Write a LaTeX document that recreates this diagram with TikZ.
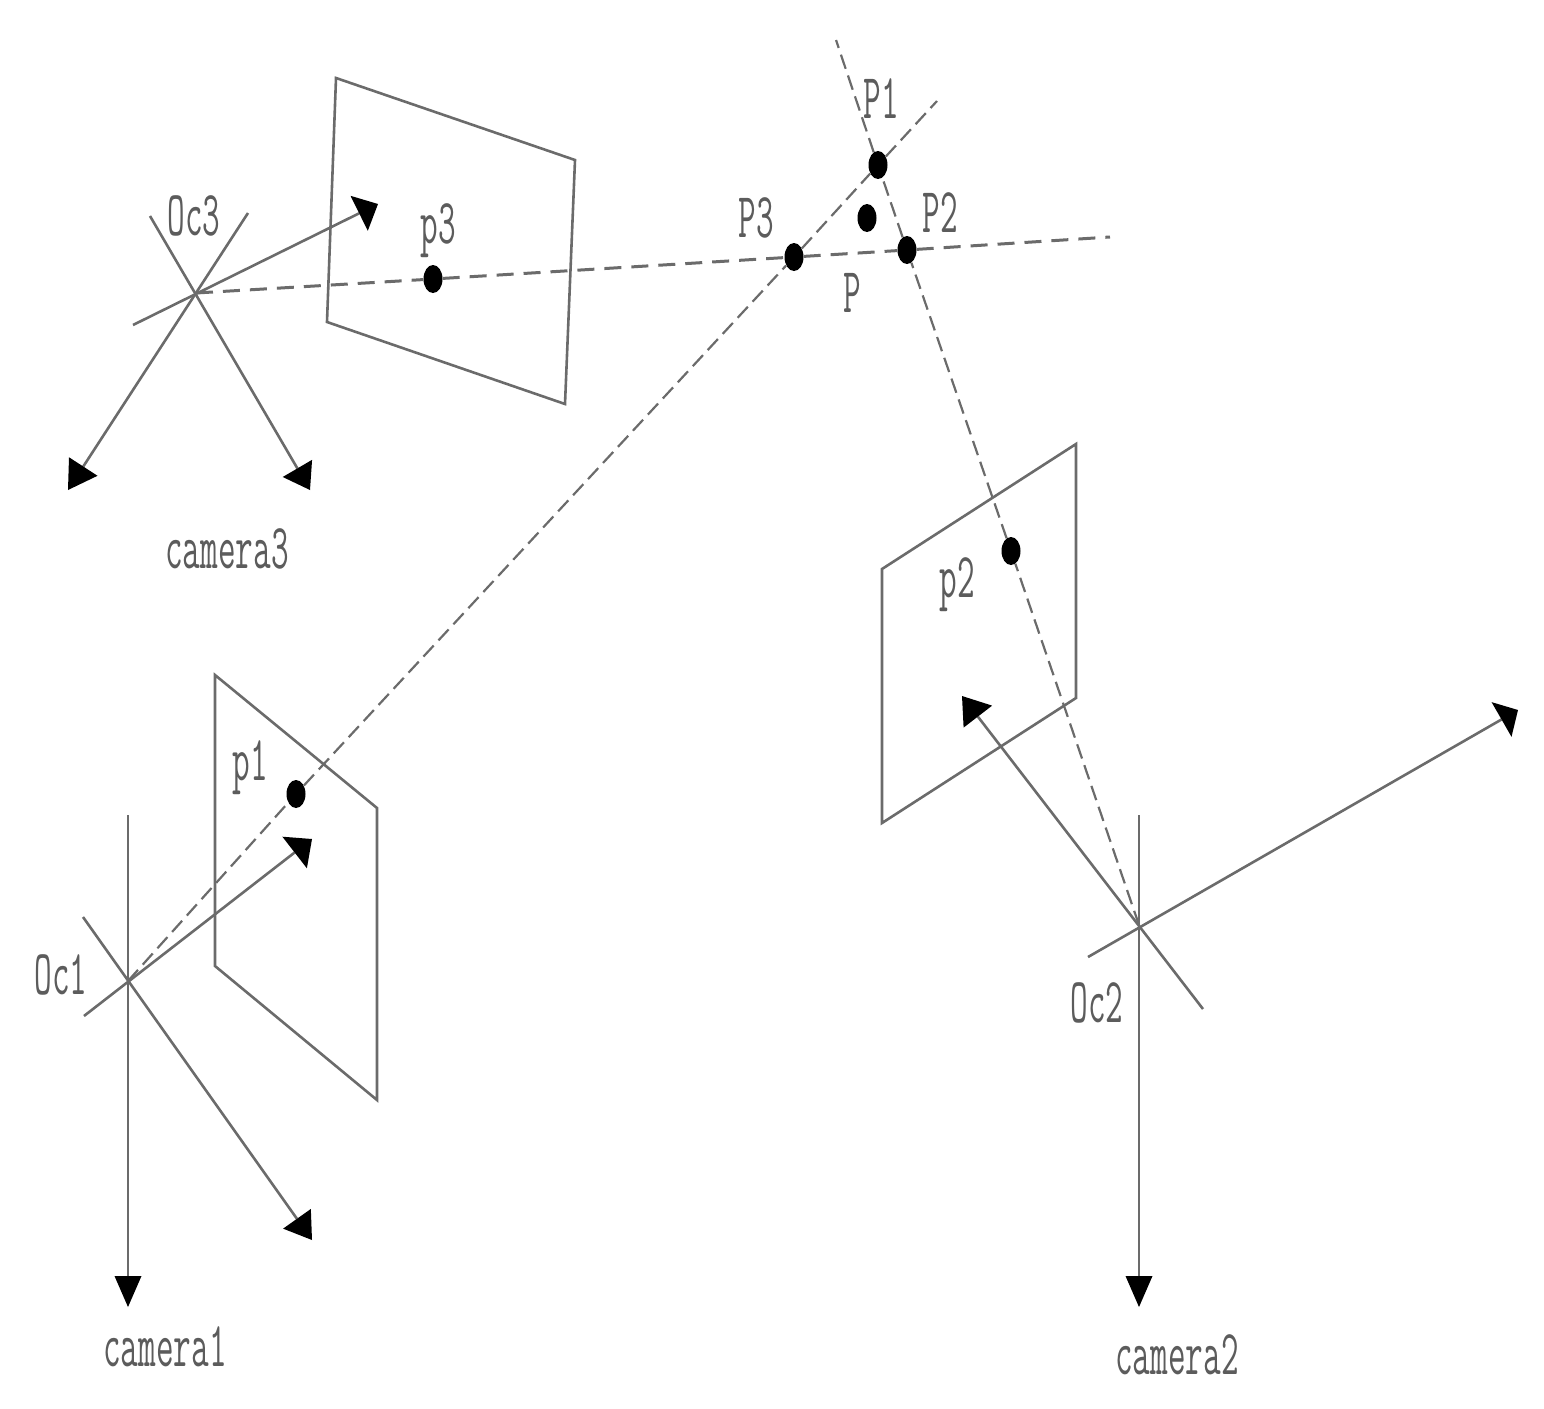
\documentclass[tikz,border=0pt]{standalone}
\usetikzlibrary{arrows.meta,shapes.geometric}
\definecolor{ink}{gray}{0.42}
\definecolor{labink}{gray}{0.36}
\tikzset{
  x=1pt,y=-1pt,
  plane/.style={draw=ink,line width=2.6pt,line join=miter},
  axis/.style={draw=ink,line width=2.6pt},
  headed/.style 2 args={axis,-{Triangle[length=#1,width=#2,fill=black,color=black,line width=0pt]}},
  ray/.style={draw=ink,line width=2.2pt,dash pattern=on 15pt off 7pt},
  rayheavy/.style={draw=ink,line width=3pt,dash pattern=on 17pt off 10pt},
  dot/.style={ellipse,fill=black,inner sep=0pt,minimum width=19pt,minimum height=28pt},
  lab/.style={text=labink,font=\ttfamily\fontsize{64}{66}\selectfont,inner sep=0pt},
}
\newcommand{\nar}[1]{\scalebox{0.535}[1]{#1}}
\begin{document}
\begin{tikzpicture}
\useasboundingbox (0,0) rectangle (1544,1408);
% coordinates
\coordinate (oc1) at (128,981);
\coordinate (oc2) at (1139,925);
\coordinate (oc3) at (196,293);
\node[dot] (P1) at (878,165) {};
\node[dot] (P) at (867,218) {};
\node[dot] (P2) at (907,250) {};
\node[dot] (P3) at (794,257) {};
\node[dot] (p1) at (296,794) {};
\node[dot] (p2) at (1011,551) {};
\node[dot] (p3) at (433,279) {};
% planes
\draw[plane] (336,78) -- (575,160) -- (565,404) -- (327,322) -- cycle;
\draw[plane] (215,675) -- (377,808) -- (377,1100) -- (215,966) -- cycle;
\draw[plane] (1076,444) -- (1076,698) -- (882,823) -- (882,569) -- cycle;
% camera 3
\coordinate (c3a) at (133,325);
\coordinate (c3b) at (378,204);
\coordinate (c3c) at (248,213);
\coordinate (c3d) at (68,490);
\coordinate (c3e) at (150,216);
\coordinate (c3f) at (310,490);
\draw[headed={21pt}{39pt}] (c3a) -- (c3b);
\draw[headed={28pt}{34pt}] (c3c) -- (c3d);
\draw[headed={25pt}{34pt}] (c3e) -- (c3f);
% camera 1
\coordinate (c1a) at (128,815);
\coordinate (c1b) at (128,1307);
\coordinate (c1c) at (84,1016);
\coordinate (c1d) at (312,839);
\coordinate (c1e) at (83,917);
\coordinate (c1f) at (312,1240);
\draw[headed={31pt}{27pt}] (c1a) -- (c1b);
\draw[headed={22pt}{40pt}] (c1c) -- (c1d);
\draw[headed={26pt}{34pt}] (c1e) -- (c1f);
% camera 2
\coordinate (c2a) at (1139,815);
\coordinate (c2b) at (1139,1307);
\coordinate (c2c) at (1088,957);
\coordinate (c2d) at (1518,710);
\coordinate (c2e) at (1203,1009);
\coordinate (c2f) at (962,696);
\draw[headed={31pt}{27pt}] (c2a) -- (c2b);
\draw[headed={19pt}{40pt}] (c2c) -- (c2d);
\draw[headed={26pt}{36pt}] (c2e) -- (c2f);
% rays
\coordinate (r3end) at (1110,237);
\coordinate (r1end) at (937,101);
\coordinate (r2end) at (836,40);
\draw[rayheavy] (oc3) -- (p3) -- (P3) -- (P2) -- (r3end);
\draw[ray] (oc1) -- (p1) -- (P3) -- (P1) -- (r1end);
\draw[ray] (oc2) -- (p2) -- (P2) -- (P1) -- (r2end);
% labels
\node[lab] (t1) at (194,216) {\nar{Oc3}};
\node[lab] (t2) at (438,231) {\nar{p3}};
\node[lab] (t3) at (227,549) {\nar{camera3}};
\node[lab] (t4) at (881,99) {\nar{P1}};
\node[lab] (t5) at (940,213) {\nar{P2}};
\node[lab] (t6) at (756,218) {\nar{P3}};
\node[lab] (t7) at (852,293) {\nar{P}};
\node[lab] (t8) at (957,585) {\nar{p2}};
\node[lab] (t9) at (250,768) {\nar{p1}};
\node[lab] (t10) at (61,975) {\nar{Oc1}};
\node[lab] (t11) at (1097,1003) {\nar{Oc2}};
\node[lab] (t12) at (165,1347) {\nar{camera1}};
\node[lab] (t13) at (1177,1355) {\nar{camera2}};
\end{tikzpicture}
\end{document}
